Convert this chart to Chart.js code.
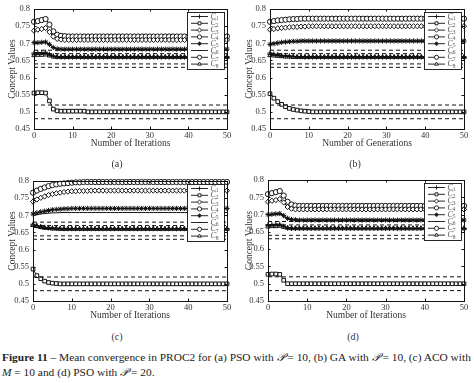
<!DOCTYPE html>
<html><head><meta charset="utf-8">
<script src="https://cdn.jsdelivr.net/npm/chart.js@4/dist/chart.umd.min.js"></script>
<style>
html,body{margin:0;padding:0;background:#fff;}
#wrap{position:relative;width:474px;height:383px;background:#fff;overflow:hidden;}
canvas{position:absolute;}
.sub{position:absolute;font-family:"Liberation Serif",serif;font-size:10px;color:#333;transform:translateX(-50%);}
#cap{position:absolute;left:2px;top:350px;width:472px;font-family:"Liberation Serif",serif;font-size:11.4px;line-height:15px;color:#222;white-space:nowrap;}
</style></head><body>
<div id="wrap">
<canvas id="ca" width="237" height="160" style="left:0;top:0"></canvas>
<canvas id="cb" width="237" height="160" style="left:237px;top:0"></canvas>
<canvas id="cc" width="237" height="158" style="left:0;top:170px"></canvas>
<canvas id="cd" width="237" height="158" style="left:237px;top:170px"></canvas>
<div class="sub" style="left:117px;top:158px">(a)</div>
<div class="sub" style="left:355px;top:158px">(b)</div>
<div class="sub" style="left:117px;top:331px">(c)</div>
<div class="sub" style="left:353px;top:331px">(d)</div>
<div id="cap"><b>Figure 11</b> – Mean convergence in PROC2 for (a) PSO with <i>𝒫</i> = 10, (b) GA with <i>𝒫</i> = 10, (c) ACO with<br><i>M</i> = 10 and (d) PSO with <i>𝒫</i> = 20.</div>
</div>
<script>
// ---------- data ----------
const iters = [0,1,2,3,4,5,6,7,8,9,10,11,12,13,14,15,16,17,18,19,20,21,22,23,24,25,26,27,28,29,30,31,32,33,34,35,36,37,38,39,40,41,42,43,44,45,46,47,48,49,50];
const seriesNames = ['C1','C2','C3','C4','C5','C6','C7','C8'];
const boundLevels = [0.68,0.67,0.64,0.63,0.52,0.48];
const yMin = 0.45, yMax = 0.8, yStep = 0.05, xStep = 10;

// (a) PSO, P = 10
const a1 = [0.672,0.673,0.673,0.674,0.668,0.663,0.661,0.66,0.66,0.66,
0.66,0.66,0.66,0.66,0.66,0.66,0.66,0.66,0.66,0.66,
0.66,0.66,0.66,0.66,0.66,0.66,0.66,0.66,0.66,0.66,
0.66,0.66,0.66,0.66,0.66,0.66,0.66,0.66,0.66,0.66,
0.66,0.66,0.66,0.66,0.66,0.66,0.66,0.66,0.66,0.66,0.66];
const a2 = [0.555,0.556,0.556,0.555,0.532,0.508,0.503,0.502,0.502,0.502,
0.502,0.502,0.502,0.502,0.5,0.5,0.5,0.5,0.5,0.5,
0.5,0.5,0.5,0.5,0.5,0.5,0.5,0.5,0.5,0.5,
0.5,0.5,0.5,0.5,0.5,0.5,0.5,0.5,0.5,0.5,
0.5,0.5,0.5,0.5,0.5,0.5,0.5,0.5,0.5,0.5,0.5];
const a3 = [0.737,0.74,0.742,0.745,0.733,0.72,0.713,0.711,0.71,0.71,
0.71,0.71,0.71,0.71,0.71,0.71,0.71,0.71,0.71,0.71,
0.71,0.71,0.71,0.71,0.71,0.71,0.71,0.71,0.71,0.71,
0.71,0.71,0.71,0.71,0.71,0.71,0.71,0.71,0.71,0.71,
0.71,0.71,0.71,0.71,0.71,0.71,0.71,0.71,0.71,0.71,0.71];
const a4 = [0.763,0.765,0.768,0.771,0.755,0.735,0.725,0.722,0.721,0.72,
0.72,0.72,0.72,0.72,0.72,0.72,0.72,0.72,0.72,0.72,
0.72,0.72,0.72,0.72,0.72,0.72,0.72,0.72,0.72,0.72,
0.72,0.72,0.72,0.72,0.72,0.72,0.72,0.72,0.72,0.72,
0.72,0.72,0.72,0.72,0.72,0.72,0.72,0.72,0.72,0.72,0.72];
const a5 = [0.702,0.702,0.703,0.704,0.697,0.688,0.684,0.683,0.683,0.683,
0.683,0.683,0.683,0.683,0.683,0.683,0.683,0.683,0.683,0.683,
0.683,0.683,0.683,0.683,0.683,0.683,0.683,0.683,0.683,0.683,
0.683,0.683,0.683,0.683,0.683,0.683,0.683,0.683,0.683,0.683,
0.683,0.683,0.683,0.683,0.683,0.683,0.683,0.683,0.683,0.683,0.683];
const a6 = [0.668,0.669,0.669,0.67,0.666,0.662,0.66,0.66,0.66,0.66,
0.66,0.66,0.66,0.66,0.66,0.66,0.66,0.66,0.66,0.66,
0.66,0.66,0.66,0.66,0.66,0.66,0.66,0.66,0.66,0.66,
0.66,0.66,0.66,0.66,0.66,0.66,0.66,0.66,0.66,0.66,
0.66,0.66,0.66,0.66,0.66,0.66,0.66,0.66,0.66,0.66,0.66];
const a7 = [0.7,0.701,0.702,0.703,0.696,0.687,0.683,0.682,0.682,0.682,
0.682,0.682,0.682,0.682,0.682,0.682,0.682,0.682,0.682,0.682,
0.682,0.682,0.682,0.682,0.682,0.682,0.682,0.682,0.682,0.682,
0.682,0.682,0.682,0.682,0.682,0.682,0.682,0.682,0.682,0.682,
0.682,0.682,0.682,0.682,0.682,0.682,0.682,0.682,0.682,0.682,0.682];
const a8 = [0.665,0.666,0.666,0.667,0.664,0.661,0.66,0.66,0.66,0.66,
0.66,0.66,0.66,0.66,0.66,0.66,0.66,0.66,0.66,0.66,
0.66,0.66,0.66,0.66,0.66,0.66,0.66,0.66,0.66,0.66,
0.66,0.66,0.66,0.66,0.66,0.66,0.66,0.66,0.66,0.66,
0.66,0.66,0.66,0.66,0.66,0.66,0.66,0.66,0.66,0.66,0.66];

// (b) GA, P = 10
const b1 = [0.672,0.669,0.667,0.665,0.664,0.663,0.662,0.661,0.661,0.66,
0.66,0.66,0.66,0.66,0.66,0.66,0.66,0.66,0.66,0.66,
0.66,0.66,0.66,0.66,0.66,0.66,0.66,0.66,0.66,0.66,
0.66,0.66,0.66,0.66,0.66,0.66,0.66,0.66,0.66,0.66,
0.66,0.66,0.66,0.66,0.66,0.66,0.66,0.66,0.66,0.66,0.66];
const b2 = [0.553,0.54,0.53,0.522,0.515,0.51,0.507,0.505,0.503,0.502,
0.501,0.5,0.5,0.5,0.5,0.5,0.5,0.5,0.5,0.5,
0.5,0.5,0.5,0.5,0.5,0.5,0.5,0.5,0.5,0.5,
0.5,0.5,0.5,0.5,0.5,0.5,0.5,0.5,0.5,0.5,
0.5,0.5,0.5,0.5,0.5,0.5,0.5,0.5,0.5,0.5,0.5];
const b3 = [0.74,0.742,0.744,0.745,0.746,0.747,0.748,0.748,0.749,0.749,
0.75,0.75,0.75,0.75,0.75,0.75,0.75,0.75,0.75,0.75,
0.75,0.75,0.75,0.75,0.75,0.75,0.75,0.75,0.75,0.75,
0.75,0.75,0.75,0.75,0.75,0.75,0.75,0.75,0.75,0.75,
0.75,0.75,0.75,0.75,0.75,0.75,0.75,0.75,0.75,0.75,0.75];
const b4 = [0.763,0.765,0.767,0.768,0.769,0.77,0.771,0.771,0.772,0.772,
0.772,0.772,0.772,0.772,0.772,0.772,0.772,0.772,0.772,0.772,
0.772,0.772,0.772,0.772,0.772,0.772,0.772,0.772,0.772,0.772,
0.772,0.772,0.772,0.772,0.772,0.772,0.772,0.772,0.772,0.772,
0.772,0.772,0.772,0.772,0.772,0.772,0.772,0.772,0.772,0.772,0.772];
const b5 = [0.697,0.699,0.701,0.703,0.704,0.705,0.706,0.706,0.707,0.707,
0.707,0.707,0.707,0.707,0.707,0.707,0.707,0.707,0.707,0.707,
0.707,0.707,0.707,0.707,0.707,0.707,0.707,0.707,0.707,0.707,
0.707,0.707,0.707,0.707,0.707,0.707,0.707,0.707,0.707,0.707,
0.707,0.707,0.707,0.707,0.707,0.707,0.707,0.707,0.707,0.707,0.707];
const b6 = [0.668,0.666,0.664,0.663,0.662,0.661,0.661,0.66,0.66,0.66,
0.66,0.66,0.66,0.66,0.66,0.66,0.66,0.66,0.66,0.66,
0.66,0.66,0.66,0.66,0.66,0.66,0.66,0.66,0.66,0.66,
0.66,0.66,0.66,0.66,0.66,0.66,0.66,0.66,0.66,0.66,
0.66,0.66,0.66,0.66,0.66,0.66,0.66,0.66,0.66,0.66,0.66];
const b7 = [0.7,0.701,0.702,0.703,0.704,0.704,0.705,0.705,0.705,0.705,
0.705,0.705,0.705,0.705,0.705,0.705,0.705,0.705,0.705,0.705,
0.705,0.705,0.705,0.705,0.705,0.705,0.705,0.705,0.705,0.705,
0.705,0.705,0.705,0.705,0.705,0.705,0.705,0.705,0.705,0.705,
0.705,0.705,0.705,0.705,0.705,0.705,0.705,0.705,0.705,0.705,0.705];
const b8 = [0.665,0.664,0.663,0.662,0.661,0.661,0.66,0.66,0.66,0.66,
0.66,0.66,0.66,0.66,0.66,0.66,0.66,0.66,0.66,0.66,
0.66,0.66,0.66,0.66,0.66,0.66,0.66,0.66,0.66,0.66,
0.66,0.66,0.66,0.66,0.66,0.66,0.66,0.66,0.66,0.66,
0.66,0.66,0.66,0.66,0.66,0.66,0.66,0.66,0.66,0.66,0.66];

// (c) ACO, M = 10
const c1 = [0.674,0.67,0.667,0.665,0.664,0.663,0.662,0.662,0.661,0.661,
0.661,0.661,0.661,0.661,0.661,0.661,0.661,0.661,0.661,0.661,
0.661,0.661,0.661,0.661,0.661,0.661,0.661,0.661,0.661,0.661,
0.661,0.661,0.661,0.661,0.661,0.661,0.661,0.661,0.661,0.661,
0.661,0.661,0.661,0.661,0.661,0.661,0.661,0.661,0.661,0.661,0.661];
const c2 = [0.543,0.524,0.515,0.508,0.504,0.502,0.501,0.5,0.5,0.5,
0.5,0.5,0.5,0.5,0.5,0.5,0.5,0.5,0.5,0.5,
0.5,0.5,0.5,0.5,0.5,0.5,0.5,0.5,0.5,0.5,
0.5,0.5,0.5,0.5,0.5,0.5,0.5,0.5,0.5,0.5,
0.5,0.5,0.5,0.5,0.5,0.5,0.5,0.5,0.5,0.5,0.5];
const c3 = [0.74,0.746,0.751,0.755,0.759,0.762,0.764,0.766,0.768,0.769,
0.77,0.77,0.771,0.771,0.771,0.772,0.772,0.772,0.772,0.772,
0.772,0.772,0.772,0.772,0.772,0.772,0.772,0.772,0.772,0.772,
0.772,0.772,0.772,0.772,0.772,0.772,0.772,0.772,0.772,0.772,
0.772,0.772,0.772,0.772,0.772,0.772,0.772,0.772,0.772,0.772,0.772];
const c4 = [0.766,0.772,0.777,0.781,0.785,0.788,0.79,0.792,0.793,0.794,
0.795,0.796,0.796,0.797,0.797,0.797,0.797,0.797,0.797,0.797,
0.797,0.797,0.797,0.797,0.797,0.797,0.797,0.797,0.797,0.797,
0.797,0.797,0.797,0.797,0.797,0.797,0.797,0.797,0.797,0.797,
0.797,0.797,0.797,0.797,0.797,0.797,0.797,0.797,0.797,0.797,0.797];
const c5 = [0.704,0.707,0.71,0.712,0.714,0.716,0.717,0.718,0.719,0.719,
0.72,0.72,0.72,0.72,0.72,0.72,0.72,0.72,0.72,0.72,
0.72,0.72,0.72,0.72,0.72,0.72,0.72,0.72,0.72,0.72,
0.72,0.72,0.72,0.72,0.72,0.72,0.72,0.72,0.72,0.72,
0.72,0.72,0.72,0.72,0.72,0.72,0.72,0.72,0.72,0.72,0.72];
const c6 = [0.668,0.665,0.663,0.662,0.661,0.661,0.66,0.66,0.66,0.66,
0.66,0.66,0.66,0.66,0.66,0.66,0.66,0.66,0.66,0.66,
0.66,0.66,0.66,0.66,0.66,0.66,0.66,0.66,0.66,0.66,
0.66,0.66,0.66,0.66,0.66,0.66,0.66,0.66,0.66,0.66,
0.66,0.66,0.66,0.66,0.66,0.66,0.66,0.66,0.66,0.66,0.66];
const c7 = [0.7,0.702,0.704,0.705,0.706,0.707,0.707,0.708,0.708,0.708,
0.708,0.708,0.708,0.708,0.708,0.708,0.708,0.708,0.708,0.708,
0.708,0.708,0.708,0.708,0.708,0.708,0.708,0.708,0.708,0.708,
0.708,0.708,0.708,0.708,0.708,0.708,0.708,0.708,0.708,0.708,
0.708,0.708,0.708,0.708,0.708,0.708,0.708,0.708,0.708,0.708,0.708];
const c8 = [0.671,0.668,0.665,0.663,0.662,0.661,0.661,0.66,0.66,0.66,
0.66,0.66,0.66,0.66,0.66,0.66,0.66,0.66,0.66,0.66,
0.66,0.66,0.66,0.66,0.66,0.66,0.66,0.66,0.66,0.66,
0.66,0.66,0.66,0.66,0.66,0.66,0.66,0.66,0.66,0.66,
0.66,0.66,0.66,0.66,0.66,0.66,0.66,0.66,0.66,0.66,0.66];

// (d) PSO, P = 20
const d1 = [0.671,0.671,0.672,0.672,0.666,0.661,0.66,0.66,0.66,0.66,
0.66,0.66,0.66,0.66,0.66,0.66,0.66,0.66,0.66,0.66,
0.66,0.66,0.66,0.66,0.66,0.66,0.66,0.66,0.66,0.66,
0.66,0.66,0.66,0.66,0.66,0.66,0.66,0.66,0.66,0.66,
0.66,0.66,0.66,0.66,0.66,0.66,0.66,0.66,0.66,0.66,0.66];
const d2 = [0.527,0.528,0.528,0.527,0.51,0.5,0.5,0.5,0.5,0.5,
0.5,0.5,0.5,0.5,0.5,0.5,0.5,0.5,0.5,0.5,
0.5,0.5,0.5,0.5,0.5,0.5,0.5,0.5,0.5,0.5,
0.5,0.5,0.5,0.5,0.5,0.5,0.5,0.5,0.5,0.5,
0.5,0.5,0.5,0.5,0.5,0.5,0.5,0.5,0.5,0.5,0.5];
const d3 = [0.737,0.74,0.742,0.745,0.735,0.722,0.717,0.715,0.715,0.715,
0.715,0.715,0.715,0.715,0.715,0.715,0.715,0.715,0.715,0.715,
0.715,0.715,0.715,0.715,0.715,0.715,0.715,0.715,0.715,0.715,
0.715,0.715,0.715,0.715,0.715,0.715,0.715,0.715,0.715,0.715,
0.715,0.715,0.715,0.715,0.715,0.715,0.715,0.715,0.715,0.715,0.715];
const d4 = [0.759,0.762,0.765,0.768,0.755,0.737,0.729,0.726,0.725,0.725,
0.725,0.725,0.725,0.725,0.725,0.725,0.725,0.725,0.725,0.725,
0.725,0.725,0.725,0.725,0.725,0.725,0.725,0.725,0.725,0.725,
0.725,0.725,0.725,0.725,0.725,0.725,0.725,0.725,0.725,0.725,
0.725,0.725,0.725,0.725,0.725,0.725,0.725,0.725,0.725,0.725,0.725];
const d5 = [0.7,0.701,0.702,0.703,0.697,0.689,0.686,0.685,0.684,0.684,
0.684,0.684,0.684,0.684,0.684,0.684,0.684,0.684,0.684,0.684,
0.684,0.684,0.684,0.684,0.684,0.684,0.684,0.684,0.684,0.684,
0.684,0.684,0.684,0.684,0.684,0.684,0.684,0.684,0.684,0.684,
0.684,0.684,0.684,0.684,0.684,0.684,0.684,0.684,0.684,0.684,0.684];
const d6 = [0.668,0.668,0.669,0.669,0.665,0.661,0.66,0.66,0.66,0.66,
0.66,0.66,0.66,0.66,0.66,0.66,0.66,0.66,0.66,0.66,
0.66,0.66,0.66,0.66,0.66,0.66,0.66,0.66,0.66,0.66,
0.66,0.66,0.66,0.66,0.66,0.66,0.66,0.66,0.66,0.66,
0.66,0.66,0.66,0.66,0.66,0.66,0.66,0.66,0.66,0.66,0.66];
const d7 = [0.698,0.699,0.7,0.701,0.694,0.688,0.685,0.684,0.684,0.684,
0.684,0.684,0.684,0.684,0.684,0.684,0.684,0.684,0.684,0.684,
0.684,0.684,0.684,0.684,0.684,0.684,0.684,0.684,0.684,0.684,
0.684,0.684,0.684,0.684,0.684,0.684,0.684,0.684,0.684,0.684,
0.684,0.684,0.684,0.684,0.684,0.684,0.684,0.684,0.684,0.684,0.684];
const d8 = [0.665,0.666,0.666,0.667,0.664,0.661,0.66,0.66,0.66,0.66,
0.66,0.66,0.66,0.66,0.66,0.66,0.66,0.66,0.66,0.66,
0.66,0.66,0.66,0.66,0.66,0.66,0.66,0.66,0.66,0.66,
0.66,0.66,0.66,0.66,0.66,0.66,0.66,0.66,0.66,0.66,
0.66,0.66,0.66,0.66,0.66,0.66,0.66,0.66,0.66,0.66,0.66];

// ---------- styles ----------
const markerStyles = ['cross','rect','rectRot','circle','star','line',false,'triangle'];
const FONT = '"Liberation Serif", "Times New Roman", serif';
const INK = '#111';

function drawMarker(ctx, style, x, y, r) {
  if (!style) return;
  if (Chart.helpers && Chart.helpers.drawPoint) {
    Chart.helpers.drawPoint(ctx, {pointStyle: style, radius: r, rotation: 0, borderWidth: 0.9}, x, y);
  }
}

const framePlugin = {
  id: 'frame',
  afterDatasetsDraw(chart) {
    const ctx = chart.ctx, a = chart.chartArea;
    ctx.save();
    const lw = 37, lh = 57;
    const lx = Math.round(a.right - 3 - lw), ly = Math.round(a.top + 3);
    ctx.fillStyle = '#fff';
    ctx.fillRect(lx, ly, lw, lh);
    ctx.strokeStyle = INK; ctx.lineWidth = 0.9;
    ctx.strokeRect(lx + 0.5, ly + 0.5, lw, lh);
    const step = 6.8;
    chart.data.datasets.forEach((ds) => {
      if (!ds.isSeries) return;
      const yy = ly + 4.5 + ds.order2 * step;
      ctx.strokeStyle = INK; ctx.lineWidth = 0.9; ctx.setLineDash([]);
      ctx.beginPath(); ctx.moveTo(lx + 4, yy); ctx.lineTo(lx + 21, yy); ctx.stroke();
      ctx.fillStyle = '#fff'; ctx.strokeStyle = INK; ctx.lineWidth = 0.9;
      drawMarker(ctx, ds.pointStyle, lx + 12.5, yy, 2.1);
      ctx.fillStyle = '#555';
      ctx.textBaseline = 'middle'; ctx.textAlign = 'left';
      ctx.font = 'italic 8px ' + FONT;
      ctx.fillText(ds.label[0], lx + 23.5, yy);
      const w = ctx.measureText(ds.label[0]).width;
      ctx.font = '5.5px ' + FONT;
      ctx.fillText(ds.label.slice(1), lx + 23.5 + w, yy + 2);
    });
    ctx.restore();
  },
  afterDraw(chart) {
    const ctx = chart.ctx, a = chart.chartArea;
    ctx.save();
    ctx.strokeStyle = INK; ctx.lineWidth = 1; ctx.setLineDash([]);
    ctx.strokeRect(Math.round(a.left) + 0.5, Math.round(a.top) + 0.5, Math.round(a.right - a.left), Math.round(a.bottom - a.top));
    const xs = chart.scales.x, ys = chart.scales.y;
    ctx.beginPath();
    xs.ticks.forEach(t => {
      const px = Math.round(xs.getPixelForValue(t.value)) + 0.5;
      ctx.moveTo(px, a.bottom); ctx.lineTo(px, a.bottom - 2.5);
      ctx.moveTo(px, a.top); ctx.lineTo(px, a.top + 2.5);
    });
    ys.ticks.forEach(t => {
      const py = Math.round(ys.getPixelForValue(t.value)) + 0.5;
      ctx.moveTo(a.left, py); ctx.lineTo(a.left + 2.5, py);
      ctx.moveTo(a.right, py); ctx.lineTo(a.right - 2.5, py);
    });
    ctx.stroke();
    ctx.restore();
  }
};

function makeChart(id, canvasBox, area, series, xTitle) {
  const datasets = [];
  boundLevels.forEach(b => {
    datasets.push({
      data: [{x: iters[0], y: b}, {x: iters[iters.length - 1], y: b}],
      borderColor: INK, borderWidth: 1, borderDash: [4, 3],
      pointRadius: 0, fill: false, tension: 0, clip: 2
    });
  });
  series.forEach((vals, i) => {
    datasets.push({
      label: seriesNames[i], isSeries: true, order2: i,
      data: vals.map((v, k) => ({x: iters[k], y: v})),
      borderColor: INK, borderWidth: 1, backgroundColor: '#fff',
      pointStyle: markerStyles[i] || 'circle',
      pointRadius: markerStyles[i] ? 2.6 : 0,
      pointBorderWidth: 1, pointBorderColor: INK, pointBackgroundColor: '#fff',
      fill: false, tension: 0, clip: 5
    });
  });
  const yW = area.left - canvasBox.left;
  const xH = 23;
  return new Chart(document.getElementById(id), {
    type: 'line',
    data: {datasets},
    options: {
      responsive: false, animation: false, devicePixelRatio: 1,
      layout: {padding: {
        left: 0,
        top: area.top - canvasBox.top,
        right: canvasBox.left + canvasBox.width - area.right,
        bottom: canvasBox.top + canvasBox.height - area.bottom - xH
      }},
      plugins: {legend: {display: false}, tooltip: {enabled: false}},
      scales: {
        x: {
          type: 'linear', min: iters[0], max: iters[iters.length - 1],
          afterFit: s => { s.height = xH; },
          grid: {display: false, drawTicks: false}, border: {display: false},
          ticks: {stepSize: xStep, padding: 2, color: '#333', font: {family: FONT, size: 8.5}, maxRotation: 0},
          title: {display: true, text: xTitle, color: '#333', font: {family: FONT, size: 9.5}, padding: {top: 0, bottom: 3}}
        },
        y: {
          min: yMin, max: yMax,
          afterFit: s => { s.width = yW; },
          grid: {display: false, drawTicks: false}, border: {display: false},
          ticks: {stepSize: yStep, padding: 4, color: '#333', font: {family: FONT, size: 8.5},
                  callback: v => String(+Number(v).toFixed(2))},
          title: {display: true, text: 'Concept Values', color: '#333', font: {family: FONT, size: 9.5}, padding: {top: 7, bottom: 0}}
        }
      }
    },
    plugins: [framePlugin]
  });
}

makeChart('ca', {left: 0, top: 0, width: 237, height: 160}, {left: 34, top: 5, right: 227, bottom: 129},
  [a1, a2, a3, a4, a5, a6, a7, a8], 'Number of Iterations');
makeChart('cb', {left: 237, top: 0, width: 237, height: 160}, {left: 270, top: 5, right: 464, bottom: 129},
  [b1, b2, b3, b4, b5, b6, b7, b8], 'Number of Generations');
makeChart('cc', {left: 0, top: 170, width: 237, height: 158}, {left: 33, top: 181, right: 227, bottom: 301},
  [c1, c2, c3, c4, c5, c6, c7, c8], 'Number of Iterations');
makeChart('cd', {left: 237, top: 170, width: 237, height: 158}, {left: 268, top: 180, right: 464, bottom: 301},
  [d1, d2, d3, d4, d5, d6, d7, d8], 'Number of Iterations');
</script>
</body></html>
